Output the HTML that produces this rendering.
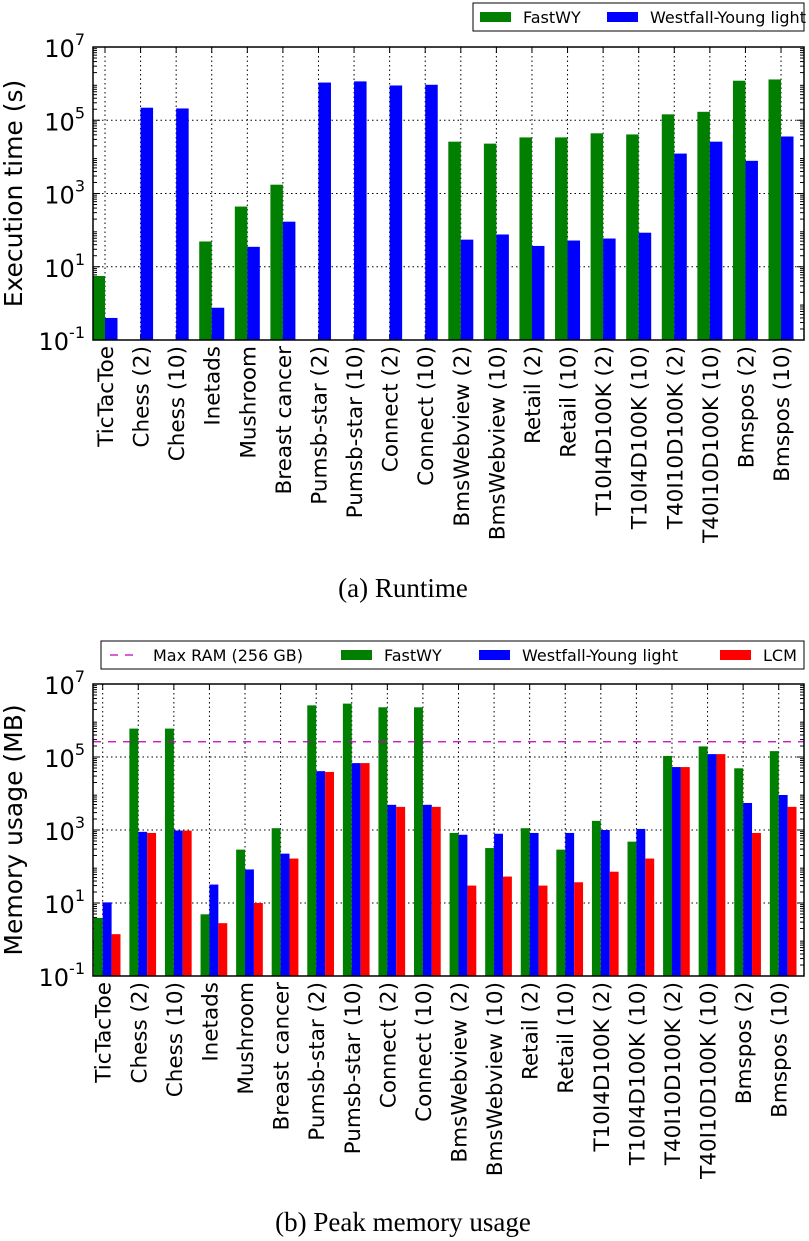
<!DOCTYPE html>
<html><head><meta charset="utf-8">
<style>
html,body{margin:0;padding:0;background:#fff;}
svg{display:block;}
text{font-family:"DejaVu Sans","Liberation Sans",sans-serif;}
.cap{font-family:"Liberation Serif","DejaVu Serif",serif;}
</style></head>
<body>
<svg id="fig" width="809" height="1241" viewBox="0 0 809 1241" xmlns="http://www.w3.org/2000/svg"></svg>
<script>
const categories = ["TicTacToe","Chess (2)","Chess (10)","Inetads","Mushroom","Breast cancer","Pumsb-star (2)","Pumsb-star (10)","Connect (2)","Connect (10)","BmsWebview (2)","BmsWebview (10)","Retail (2)","Retail (10)","T10I4D100K (2)","T10I4D100K (10)","T40I10D100K (2)","T40I10D100K (10)","Bmspos (2)","Bmspos (10)"];
const runtimeFastWY = [5.6,null,null,49,440,1740,null,null,null,null,2.6e4,2.3e4,3.4e4,3.4e4,4.4e4,4.1e4,1.45e5,1.7e5,1.2e6,1.3e6];
const runtimeWYLight = [0.4,2.2e5,2.1e5,0.76,35,170,1.07e6,1.15e6,8.9e5,9.3e5,55,76,37,52,59,85,1.23e4,2.6e4,7.8e3,3.6e4];
const memFastWY = [3.9,6e5,6e5,4.9,290,1120,2.6e6,2.9e6,2.3e6,2.3e6,830,320,1120,290,1780,480,1.07e5,1.95e5,4.9e4,1.45e5];
const memWYLight = [10.4,890,970,32,83,225,4.1e4,6.8e4,4.9e3,4.9e3,740,790,830,830,1000,1070,5.3e4,1.2e5,5.5e3,9.1e3];
const memLCM = [1.4,830,960,2.8,10,165,3.9e4,6.8e4,4.3e3,4.3e3,30,53,30,37,72,165,5.3e4,1.2e5,830,4.3e3];
const maxRam = [262144];
const yTickExps = [-1,1,3,5,7];

const NS="http://www.w3.org/2000/svg";
const svg=document.getElementById('fig');
function mk(tag,attrs,parent){const e=document.createElementNS(NS,tag);for(const k in attrs)e.setAttribute(k,attrs[k]);(parent||svg).appendChild(e);return e;}

function drawChart(cfg){
  const g=mk('g',{});
  
  
  const L=93,R=804,T=cfg.top,B=cfg.bottom;
  const dec=(B-T)/8;
  const y=v=>B-(Math.log10(v)+1)*dec;
  const x=i=>cfg.x0+35.58*i;
  categories.forEach((c,i)=>{
    const gl=mk('line',{x1:x(i),x2:x(i),y1:T,y2:B,stroke:'#000','stroke-width':1,'stroke-dasharray':'1.5,3'},g);
    
    
    mk('line',{x1:x(i),x2:x(i),y1:B,y2:B-6,stroke:'#000'},g);
    mk('line',{x1:x(i),x2:x(i),y1:T,y2:T+6,stroke:'#000'},g);
  });
  yTickExps.forEach(e=>{
    const yy=y(Math.pow(10,e));
    if(e>-1&&e<7){
      const gl=mk('line',{x1:L,x2:R,y1:yy,y2:yy,stroke:'#000','stroke-width':1,'stroke-dasharray':'1.5,3'},g);
      
      
    }
    mk('line',{x1:L,x2:L+7,y1:yy,y2:yy,stroke:'#000'},g);
    mk('line',{x1:R,x2:R-7,y1:yy,y2:yy,stroke:'#000'},g);
    const t=mk('text',{x:L-8,y:yy+10,'text-anchor':'end','font-size':24},g);
    
    
    t.textContent='10';
    const s=mk('tspan',{dy:-12,'font-size':16},t);s.textContent=String(e);
  });
  for(let e=-1;e<7;e++)for(let m=2;m<10;m++){
    const yy=y(m*Math.pow(10,e));
    mk('line',{x1:L,x2:L+4,y1:yy,y2:yy,stroke:'#000'},g);
    mk('line',{x1:R,x2:R-4,y1:yy,y2:yy,stroke:'#000'},g);
  }
  cfg.series.forEach((s,si)=>{
    s.data.forEach((v,i)=>{
      if(v==null)return;
      const x0=x(i)+cfg.bw*(si+cfg.off);
      const r=mk('rect',{x:x0,y:y(v),width:cfg.bw,height:B-y(v),fill:s.color},g);
      
      
    });
  });
  if(cfg.line){
    const l=mk('line',{x1:L,x2:R,y1:y(cfg.line),y2:y(cfg.line),stroke:'#bf00bf','stroke-width':1.2,'stroke-dasharray':'8,7'},g);
    
    
  }
  const fr=mk('rect',{x:L,y:T,width:R-L,height:B-T,fill:'none',stroke:'#000','stroke-width':1.5},g);
  
  
  categories.forEach((c,i)=>{
    const t=mk('text',{transform:`translate(${x(i)+8},${B+6}) rotate(-90)`,'text-anchor':'end','font-size':21.5},g);
    
    
    t.textContent=c;
  });
  const yl=mk('text',{transform:`translate(${cfg.ylx},${(T+B)/2}) rotate(-90)`,'text-anchor':'middle','font-size':25},g);
  
  
  yl.textContent=cfg.ylabel;
  const cap=mk('text',{x:403,y:cfg.capY,'text-anchor':'middle','font-size':27,class:'cap'},g);
  
  
  cap.textContent=cfg.caption;
}

drawChart({name:'runtime-chart',top:47,bottom:340,x0:105,bw:12.5,off:-1,
  series:[{key:'fastwy',color:'#007f00',data:runtimeFastWY},{key:'wy-light',color:'#0000ff',data:runtimeWYLight}],
  ylabel:'Execution time (s)',ylx:22,caption:'(a) Runtime',capY:597});
drawChart({name:'memory-chart',top:684,bottom:976,x0:102.7,bw:8.9,off:-1,
  series:[{key:'fastwy',color:'#007f00',data:memFastWY},{key:'wy-light',color:'#0000ff',data:memWYLight},{key:'lcm',color:'#ff0000',data:memLCM}],
  line:maxRam[0],ylabel:'Memory usage (MB)',ylx:22,caption:'(b) Peak memory usage',capY:1231});

function legend(name,x,y,w,h,items){
  const g=mk('g',{});
  
  
  mk('rect',{x:x,y:y,width:w,height:h,fill:'#fff',stroke:'#000','stroke-width':1},g);
  items.forEach(it=>{
    if(it.line){mk('line',{x1:it.x,x2:it.x+30,y1:y+h/2,y2:y+h/2,stroke:it.color,'stroke-width':1.2,'stroke-dasharray':'8,7'},g);}
    else{mk('rect',{x:it.x,y:y+h/2-5,width:31,height:10,fill:it.color},g);}
    const t=mk('text',{x:it.x+43,y:y+h/2+6,'font-size':16},g);
    
    
    t.textContent=it.label;
  });
}
legend('runtime-legend',473,3,331,28,[{x:480,color:'#007f00',label:'FastWY'},{x:607,color:'#0000ff',label:'Westfall-Young light'}]);
legend('memory-legend',101,641,703,28,[{x:110,color:'#bf00bf',line:true,label:'Max RAM (256 GB)'},{x:341,color:'#007f00',label:'FastWY'},{x:479,color:'#0000ff',label:'Westfall-Young light'},{x:720,color:'#ff0000',label:'LCM'}]);
</script>
</body></html>
